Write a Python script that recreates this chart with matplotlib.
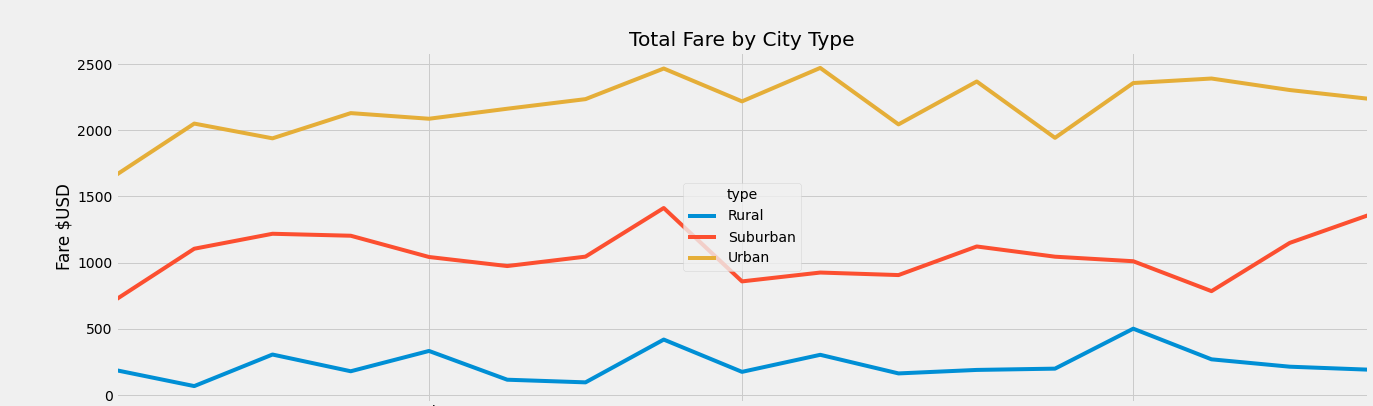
import matplotlib
matplotlib.use('Agg')
import matplotlib.pyplot as plt
import pandas as pd

# weekly totals, Jan - Apr 2019
weeks = pd.date_range('2019-01-06', '2019-04-28', freq='W')
rural = [187.92, 67.65, 306.00, 179.69, 333.08, 115.80, 95.82, 419.06, 175.14,
         303.94, 163.39, 189.76, 199.42, 501.24, 269.79, 214.14, 191.85]
suburban = [721.60, 1105.13, 1218.20, 1203.28, 1042.79, 974.34, 1045.50, 1412.74,
            858.46, 925.27, 906.20, 1122.20, 1045.06, 1010.73, 784.82, 1149.27, 1357.75]
urban = [1661.68, 2050.43, 1939.02, 2129.51, 2086.94, 2162.64, 2235.07, 2466.29,
         2218.20, 2470.93, 2044.42, 2368.37, 1942.77, 2356.70, 2390.72, 2303.80, 2238.29]

df = pd.DataFrame({'Rural': rural, 'Suburban': suburban, 'Urban': urban},
                  index=pd.Index(weeks, name='date'))
df.columns.name = 'type'

plt.style.use('fivethirtyeight')

W, H, dpi = 1373, 406, 72
fig = plt.figure(figsize=(W / dpi, H / dpi), dpi=dpi)
# axes runs slightly past the bottom edge, like the cropped original
ax = fig.add_axes([116 / W, (H - 402) / H, 1252 / W, 350 / H])

df.plot(ax=ax)
ax.set_title('Total Fare by City Type')
ax.set_ylabel('Fare $USD')
ax.legend(title='type', loc='center')

fig.savefig('out.png', dpi=dpi)
